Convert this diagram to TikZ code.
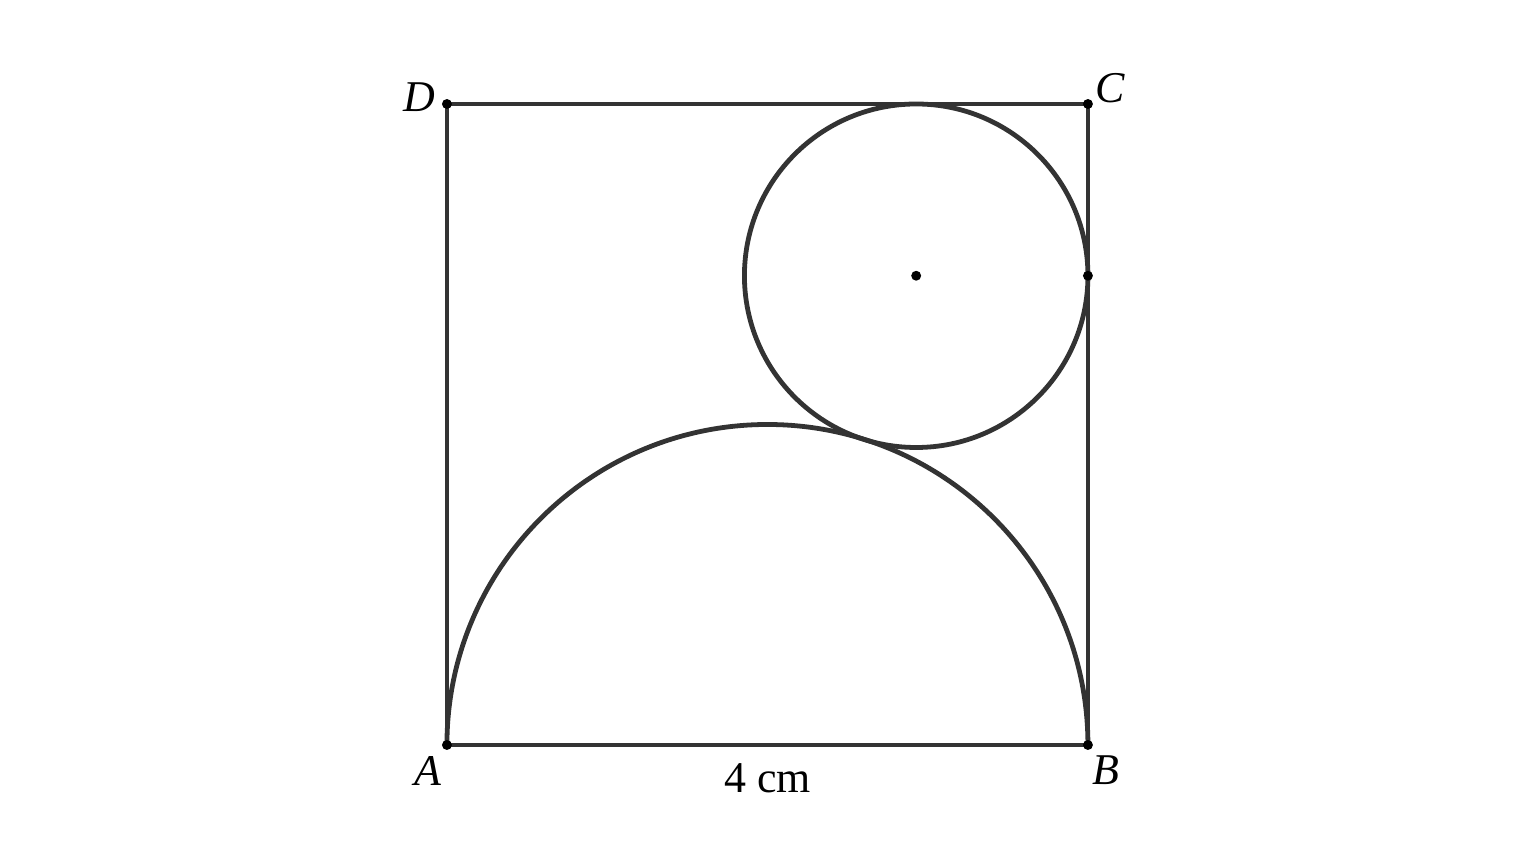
\documentclass[tikz,border=0pt]{standalone}
\usepackage{fontspec}
\setmainfont{Liberation Serif}
\begin{document}
\begin{tikzpicture}[x=1cm,y=1cm,
  edge/.style={draw=black!80,line width=0.85pt},
  ptdot/.style={circle,fill=black,inner sep=0pt,minimum size=0.062cm},
  lbl/.style={font=\fontsize{7.8pt}{9pt}\selectfont\itshape,inner sep=0pt},
  dim/.style={font=\fontsize{7.8pt}{9pt}\selectfont,inner sep=0pt}]
\useasboundingbox (-2.789,-0.7426) rectangle (6.796,4.649);
\pgfmathsetmacro{\r}{8-sqrt(48)}
\coordinate (A) at (0,0);
\coordinate (B) at (4,0);
\coordinate (C) at (4,4);
\coordinate (D) at (0,4);
\coordinate (O) at ({4-\r},{4-\r});
\coordinate (T) at (4,{4-\r});
\draw[edge] (B) arc[start angle=0,end angle=180,radius=2];
\draw[edge] (O) circle[radius=\r];
\draw[edge] (A) -- (B) -- (C) -- (D) -- cycle;
\foreach \p in {A,B,C,D,O,T} \node[ptdot] (dot\p) at (\p) {};
\node[lbl] (lA) at (-0.12,-0.16) {A};
\node[lbl] (lB) at (0.11+4,-0.16) {B};
\node[lbl] (lC) at (0.14+4,4.1) {C};
\node[lbl] (lD) at (-0.17,4.04) {D};
\node[dim] (lab) at (2,-0.21) {4 cm};
\end{tikzpicture}
\end{document}
